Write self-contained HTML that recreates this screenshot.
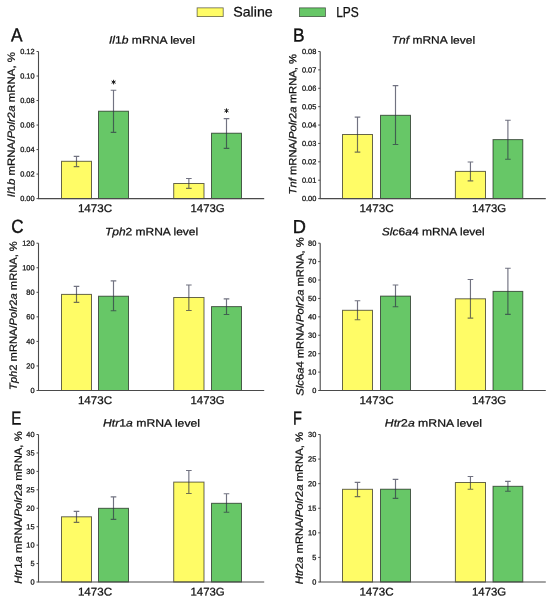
<!DOCTYPE html>
<html><head><meta charset="utf-8"><style>
html,body{margin:0;padding:0;background:#fff;width:550px;height:602px;overflow:hidden}
svg{display:block;will-change:transform}
text{font-family:"Liberation Sans",sans-serif;fill:#111;stroke:#111;stroke-width:0.25px}
</style></head><body>
<svg width="550" height="602" viewBox="0 0 550 602">
<rect width="550" height="602" fill="#fff"/>
<rect x="197.1" y="7.85" width="26.1" height="8.75" fill="#fffc66" stroke="rgba(0,0,0,0.6)" stroke-width="0.8"/>
<text transform="matrix(1,0.0005,0,1,233.2,16.5)" font-size="13.8" textLength="39.5" lengthAdjust="spacingAndGlyphs">Saline</text>
<rect x="299.5" y="7.85" width="25.9" height="8.75" fill="#67c767" stroke="rgba(0,0,0,0.6)" stroke-width="0.8"/>
<text transform="matrix(1,0.0005,0,1,336.2,16.5)" font-size="13.8" textLength="22.6" lengthAdjust="spacingAndGlyphs">LPS</text>
<text transform="matrix(0.9169,0.0005,0,1,11.07,41.3)" font-size="18.75" style="stroke-width:0.4px">A</text>
<text transform="matrix(0.9219,0.0005,0,1,292.88,41.4)" font-size="18.75" style="stroke-width:0.4px">B</text>
<text transform="matrix(0.9095,0.0005,0,1,11.13,232.8)" font-size="18.75" style="stroke-width:0.4px">C</text>
<text transform="matrix(0.9725,0.0005,0,1,292.8,232.9)" font-size="18.75" style="stroke-width:0.4px">D</text>
<text transform="matrix(0.8069,0.0005,0,1,11.26,424.5)" font-size="18.75" style="stroke-width:0.4px">E</text>
<text transform="matrix(0.7747,0.0005,0,1,293.11,424.5)" font-size="18.75" style="stroke-width:0.4px">F</text>
<rect x="61.5" y="161.3" width="30" height="37.3" fill="#fffc66" stroke="rgba(0,0,0,0.6)" stroke-width="1"/>
<rect x="98.5" y="111.2" width="30" height="87.4" fill="#67c767" stroke="rgba(0,0,0,0.6)" stroke-width="1"/>
<rect x="173.7" y="183.5" width="30.3" height="15.1" fill="#fffc66" stroke="rgba(0,0,0,0.6)" stroke-width="1"/>
<rect x="211.5" y="133.2" width="30" height="65.4" fill="#67c767" stroke="rgba(0,0,0,0.6)" stroke-width="1"/>
<path d="M76.5 156.3V166.6M73.7 156.3H79.3M73.7 166.6H79.3" stroke="rgba(45,47,70,0.68)" stroke-width="1.15" fill="none"/>
<path d="M113.5 90.2V132.4M110.7 90.2H116.3M110.7 132.4H116.3" stroke="rgba(45,47,70,0.68)" stroke-width="1.15" fill="none"/>
<path d="M188.85 178.5V188.3M186.05 178.5H191.65M186.05 188.3H191.65" stroke="rgba(45,47,70,0.68)" stroke-width="1.15" fill="none"/>
<path d="M226.5 118.6V148.3M223.7 118.6H229.3M223.7 148.3H229.3" stroke="rgba(45,47,70,0.68)" stroke-width="1.15" fill="none"/>
<path d="M113.6 84.4L113.6 79.8M111.61 83.25L115.59 80.95M115.59 83.25L111.61 80.95" stroke="#1a1a1a" stroke-width="1.0" fill="none"/>
<path d="M226.5 113L226.5 108.4M224.51 111.85L228.49 109.55M228.49 111.85L224.51 109.55" stroke="#1a1a1a" stroke-width="1.0" fill="none"/>
<path d="M38.5 51.5V198.6H264.2" stroke="#4a4a4a" stroke-width="1.1" fill="none"/>
<path d="M36.5 198.6H38.5" stroke="#4a4a4a" stroke-width="1"/>
<text transform="matrix(1,0.0005,0,1,34.6,201.1)" font-size="7.4" text-anchor="end">0.00</text>
<path d="M36.5 174.08H38.5" stroke="#4a4a4a" stroke-width="1"/>
<text transform="matrix(1,0.0005,0,1,34.6,176.58)" font-size="7.4" text-anchor="end">0.02</text>
<path d="M36.5 149.57H38.5" stroke="#4a4a4a" stroke-width="1"/>
<text transform="matrix(1,0.0005,0,1,34.6,152.07)" font-size="7.4" text-anchor="end">0.04</text>
<path d="M36.5 125.05H38.5" stroke="#4a4a4a" stroke-width="1"/>
<text transform="matrix(1,0.0005,0,1,34.6,127.55)" font-size="7.4" text-anchor="end">0.06</text>
<path d="M36.5 100.53H38.5" stroke="#4a4a4a" stroke-width="1"/>
<text transform="matrix(1,0.0005,0,1,34.6,103.03)" font-size="7.4" text-anchor="end">0.08</text>
<path d="M36.5 76.02H38.5" stroke="#4a4a4a" stroke-width="1"/>
<text transform="matrix(1,0.0005,0,1,34.6,78.52)" font-size="7.4" text-anchor="end">0.10</text>
<path d="M36.5 51.5H38.5" stroke="#4a4a4a" stroke-width="1"/>
<text transform="matrix(1,0.0005,0,1,34.6,54)" font-size="7.4" text-anchor="end">0.12</text>
<text transform="matrix(1,0.0005,0,1,95,212)" font-size="11.2" text-anchor="middle" textLength="34.2" lengthAdjust="spacingAndGlyphs">1473C</text>
<text transform="matrix(1,0.0005,0,1,207.6,212)" font-size="11.2" text-anchor="middle" textLength="34.2" lengthAdjust="spacingAndGlyphs">1473G</text>
<text transform="matrix(1,0.0005,0,1,109,43.6)" font-size="10.6" textLength="86" lengthAdjust="spacingAndGlyphs"><tspan font-style="italic">Il</tspan><tspan>1</tspan><tspan font-style="italic">b</tspan><tspan> mRNA level</tspan></text>
<text transform="matrix(0.0005,-1,1,0,14.7,197.2)" font-size="10.4" textLength="145.2" lengthAdjust="spacingAndGlyphs"><tspan font-style="italic">Il</tspan><tspan>1</tspan><tspan font-style="italic">b</tspan><tspan> mRNA/</tspan><tspan font-style="italic">Polr</tspan><tspan>2</tspan><tspan font-style="italic">a</tspan><tspan> mRNA, %</tspan></text>
<rect x="342.5" y="134.5" width="30" height="64.1" fill="#fffc66" stroke="rgba(0,0,0,0.6)" stroke-width="1"/>
<rect x="380.5" y="115.3" width="30" height="83.3" fill="#67c767" stroke="rgba(0,0,0,0.6)" stroke-width="1"/>
<rect x="455.4" y="171.4" width="30.1" height="27.2" fill="#fffc66" stroke="rgba(0,0,0,0.6)" stroke-width="1"/>
<rect x="493" y="139.6" width="29.8" height="59" fill="#67c767" stroke="rgba(0,0,0,0.6)" stroke-width="1"/>
<path d="M357.5 117.1V152.1M354.7 117.1H360.3M354.7 152.1H360.3" stroke="rgba(45,47,70,0.68)" stroke-width="1.15" fill="none"/>
<path d="M395.5 85.6V144.5M392.7 85.6H398.3M392.7 144.5H398.3" stroke="rgba(45,47,70,0.68)" stroke-width="1.15" fill="none"/>
<path d="M470.45 162V180.8M467.65 162H473.25M467.65 180.8H473.25" stroke="rgba(45,47,70,0.68)" stroke-width="1.15" fill="none"/>
<path d="M507.9 120.2V159.2M505.1 120.2H510.7M505.1 159.2H510.7" stroke="rgba(45,47,70,0.68)" stroke-width="1.15" fill="none"/>
<path d="M320.2 51.5V198.6H545.8" stroke="#4a4a4a" stroke-width="1.1" fill="none"/>
<path d="M318.2 198.6H320.2" stroke="#4a4a4a" stroke-width="1"/>
<text transform="matrix(1,0.0005,0,1,316.3,201.1)" font-size="7.4" text-anchor="end">0.00</text>
<path d="M318.2 180.21H320.2" stroke="#4a4a4a" stroke-width="1"/>
<text transform="matrix(1,0.0005,0,1,316.3,182.71)" font-size="7.4" text-anchor="end">0.01</text>
<path d="M318.2 161.82H320.2" stroke="#4a4a4a" stroke-width="1"/>
<text transform="matrix(1,0.0005,0,1,316.3,164.32)" font-size="7.4" text-anchor="end">0.02</text>
<path d="M318.2 143.44H320.2" stroke="#4a4a4a" stroke-width="1"/>
<text transform="matrix(1,0.0005,0,1,316.3,145.94)" font-size="7.4" text-anchor="end">0.03</text>
<path d="M318.2 125.05H320.2" stroke="#4a4a4a" stroke-width="1"/>
<text transform="matrix(1,0.0005,0,1,316.3,127.55)" font-size="7.4" text-anchor="end">0.04</text>
<path d="M318.2 106.66H320.2" stroke="#4a4a4a" stroke-width="1"/>
<text transform="matrix(1,0.0005,0,1,316.3,109.16)" font-size="7.4" text-anchor="end">0.05</text>
<path d="M318.2 88.28H320.2" stroke="#4a4a4a" stroke-width="1"/>
<text transform="matrix(1,0.0005,0,1,316.3,90.78)" font-size="7.4" text-anchor="end">0.06</text>
<path d="M318.2 69.89H320.2" stroke="#4a4a4a" stroke-width="1"/>
<text transform="matrix(1,0.0005,0,1,316.3,72.39)" font-size="7.4" text-anchor="end">0.07</text>
<path d="M318.2 51.5H320.2" stroke="#4a4a4a" stroke-width="1"/>
<text transform="matrix(1,0.0005,0,1,316.3,54)" font-size="7.4" text-anchor="end">0.08</text>
<text transform="matrix(1,0.0005,0,1,376.5,212)" font-size="11.2" text-anchor="middle" textLength="34.2" lengthAdjust="spacingAndGlyphs">1473C</text>
<text transform="matrix(1,0.0005,0,1,489.1,212)" font-size="11.2" text-anchor="middle" textLength="34.2" lengthAdjust="spacingAndGlyphs">1473G</text>
<text transform="matrix(1,0.0005,0,1,391.8,43.6)" font-size="10.6" textLength="83.3" lengthAdjust="spacingAndGlyphs"><tspan font-style="italic">Tnf</tspan><tspan> mRNA level</tspan></text>
<text transform="matrix(0.0005,-1,1,0,296.3,194.4)" font-size="10.4" textLength="140.4" lengthAdjust="spacingAndGlyphs"><tspan font-style="italic">Tnf</tspan><tspan> mRNA/</tspan><tspan font-style="italic">Polr</tspan><tspan>2</tspan><tspan font-style="italic">a</tspan><tspan> mRNA, %</tspan></text>
<rect x="61.5" y="294.4" width="30" height="96.1" fill="#fffc66" stroke="rgba(0,0,0,0.6)" stroke-width="1"/>
<rect x="98.5" y="296.2" width="30" height="94.3" fill="#67c767" stroke="rgba(0,0,0,0.6)" stroke-width="1"/>
<rect x="173.7" y="297.5" width="30.3" height="93" fill="#fffc66" stroke="rgba(0,0,0,0.6)" stroke-width="1"/>
<rect x="211.5" y="306.6" width="30" height="83.9" fill="#67c767" stroke="rgba(0,0,0,0.6)" stroke-width="1"/>
<path d="M76.5 286.4V302.3M73.7 286.4H79.3M73.7 302.3H79.3" stroke="rgba(45,47,70,0.68)" stroke-width="1.15" fill="none"/>
<path d="M113.5 280.8V310.7M110.7 280.8H116.3M110.7 310.7H116.3" stroke="rgba(45,47,70,0.68)" stroke-width="1.15" fill="none"/>
<path d="M188.85 285V310.5M186.05 285H191.65M186.05 310.5H191.65" stroke="rgba(45,47,70,0.68)" stroke-width="1.15" fill="none"/>
<path d="M226.5 298.9V314.5M223.7 298.9H229.3M223.7 314.5H229.3" stroke="rgba(45,47,70,0.68)" stroke-width="1.15" fill="none"/>
<path d="M38.5 243.2V390.5H264.2" stroke="#4a4a4a" stroke-width="1.1" fill="none"/>
<path d="M36.5 390.5H38.5" stroke="#4a4a4a" stroke-width="1"/>
<text transform="matrix(1,0.0005,0,1,34.6,393)" font-size="7.4" text-anchor="end">0</text>
<path d="M36.5 365.95H38.5" stroke="#4a4a4a" stroke-width="1"/>
<text transform="matrix(1,0.0005,0,1,34.6,368.45)" font-size="7.4" text-anchor="end">20</text>
<path d="M36.5 341.4H38.5" stroke="#4a4a4a" stroke-width="1"/>
<text transform="matrix(1,0.0005,0,1,34.6,343.9)" font-size="7.4" text-anchor="end">40</text>
<path d="M36.5 316.85H38.5" stroke="#4a4a4a" stroke-width="1"/>
<text transform="matrix(1,0.0005,0,1,34.6,319.35)" font-size="7.4" text-anchor="end">60</text>
<path d="M36.5 292.3H38.5" stroke="#4a4a4a" stroke-width="1"/>
<text transform="matrix(1,0.0005,0,1,34.6,294.8)" font-size="7.4" text-anchor="end">80</text>
<path d="M36.5 267.75H38.5" stroke="#4a4a4a" stroke-width="1"/>
<text transform="matrix(1,0.0005,0,1,34.6,270.25)" font-size="7.4" text-anchor="end">100</text>
<path d="M36.5 243.2H38.5" stroke="#4a4a4a" stroke-width="1"/>
<text transform="matrix(1,0.0005,0,1,34.6,245.7)" font-size="7.4" text-anchor="end">120</text>
<text transform="matrix(1,0.0005,0,1,95,403.9)" font-size="11.2" text-anchor="middle" textLength="34.2" lengthAdjust="spacingAndGlyphs">1473C</text>
<text transform="matrix(1,0.0005,0,1,207.6,403.9)" font-size="11.2" text-anchor="middle" textLength="34.2" lengthAdjust="spacingAndGlyphs">1473G</text>
<text transform="matrix(1,0.0005,0,1,104.9,235.3)" font-size="10.6" textLength="93.3" lengthAdjust="spacingAndGlyphs"><tspan font-style="italic">Tph</tspan><tspan>2</tspan><tspan> mRNA level</tspan></text>
<text transform="matrix(0.0005,-1,1,0,16.7,389.9)" font-size="10.4" textLength="148.7" lengthAdjust="spacingAndGlyphs"><tspan font-style="italic">Tph</tspan><tspan>2</tspan><tspan> mRNA/</tspan><tspan font-style="italic">Polr</tspan><tspan>2</tspan><tspan font-style="italic">a</tspan><tspan> mRNA, %</tspan></text>
<rect x="342.5" y="310.3" width="30" height="80.2" fill="#fffc66" stroke="rgba(0,0,0,0.6)" stroke-width="1"/>
<rect x="380.5" y="296.1" width="30" height="94.4" fill="#67c767" stroke="rgba(0,0,0,0.6)" stroke-width="1"/>
<rect x="455.4" y="298.8" width="30.1" height="91.7" fill="#fffc66" stroke="rgba(0,0,0,0.6)" stroke-width="1"/>
<rect x="493" y="291.4" width="29.8" height="99.1" fill="#67c767" stroke="rgba(0,0,0,0.6)" stroke-width="1"/>
<path d="M357.5 300.7V319.7M354.7 300.7H360.3M354.7 319.7H360.3" stroke="rgba(45,47,70,0.68)" stroke-width="1.15" fill="none"/>
<path d="M395.5 285V306.7M392.7 285H398.3M392.7 306.7H398.3" stroke="rgba(45,47,70,0.68)" stroke-width="1.15" fill="none"/>
<path d="M470.45 279.5V318.1M467.65 279.5H473.25M467.65 318.1H473.25" stroke="rgba(45,47,70,0.68)" stroke-width="1.15" fill="none"/>
<path d="M507.9 268.2V314.3M505.1 268.2H510.7M505.1 314.3H510.7" stroke="rgba(45,47,70,0.68)" stroke-width="1.15" fill="none"/>
<path d="M320.2 243.2V390.5H545.8" stroke="#4a4a4a" stroke-width="1.1" fill="none"/>
<path d="M318.2 390.5H320.2" stroke="#4a4a4a" stroke-width="1"/>
<text transform="matrix(1,0.0005,0,1,316.3,393)" font-size="7.4" text-anchor="end">0</text>
<path d="M318.2 372.09H320.2" stroke="#4a4a4a" stroke-width="1"/>
<text transform="matrix(1,0.0005,0,1,316.3,374.59)" font-size="7.4" text-anchor="end">10</text>
<path d="M318.2 353.68H320.2" stroke="#4a4a4a" stroke-width="1"/>
<text transform="matrix(1,0.0005,0,1,316.3,356.18)" font-size="7.4" text-anchor="end">20</text>
<path d="M318.2 335.26H320.2" stroke="#4a4a4a" stroke-width="1"/>
<text transform="matrix(1,0.0005,0,1,316.3,337.76)" font-size="7.4" text-anchor="end">30</text>
<path d="M318.2 316.85H320.2" stroke="#4a4a4a" stroke-width="1"/>
<text transform="matrix(1,0.0005,0,1,316.3,319.35)" font-size="7.4" text-anchor="end">40</text>
<path d="M318.2 298.44H320.2" stroke="#4a4a4a" stroke-width="1"/>
<text transform="matrix(1,0.0005,0,1,316.3,300.94)" font-size="7.4" text-anchor="end">50</text>
<path d="M318.2 280.02H320.2" stroke="#4a4a4a" stroke-width="1"/>
<text transform="matrix(1,0.0005,0,1,316.3,282.52)" font-size="7.4" text-anchor="end">60</text>
<path d="M318.2 261.61H320.2" stroke="#4a4a4a" stroke-width="1"/>
<text transform="matrix(1,0.0005,0,1,316.3,264.11)" font-size="7.4" text-anchor="end">70</text>
<path d="M318.2 243.2H320.2" stroke="#4a4a4a" stroke-width="1"/>
<text transform="matrix(1,0.0005,0,1,316.3,245.7)" font-size="7.4" text-anchor="end">80</text>
<text transform="matrix(1,0.0005,0,1,376.5,403.9)" font-size="11.2" text-anchor="middle" textLength="34.2" lengthAdjust="spacingAndGlyphs">1473C</text>
<text transform="matrix(1,0.0005,0,1,489.1,403.9)" font-size="11.2" text-anchor="middle" textLength="34.2" lengthAdjust="spacingAndGlyphs">1473G</text>
<text transform="matrix(1,0.0005,0,1,381.8,235.3)" font-size="10.6" textLength="102.9" lengthAdjust="spacingAndGlyphs"><tspan font-style="italic">Slc</tspan><tspan>6</tspan><tspan font-style="italic">a</tspan><tspan>4</tspan><tspan> mRNA level</tspan></text>
<text transform="matrix(0.0005,-1,1,0,303.4,395.7)" font-size="10.4" textLength="158.5" lengthAdjust="spacingAndGlyphs"><tspan font-style="italic">Slc</tspan><tspan>6</tspan><tspan font-style="italic">a</tspan><tspan>4</tspan><tspan> mRNA/</tspan><tspan font-style="italic">Polr</tspan><tspan>2</tspan><tspan font-style="italic">a</tspan><tspan> mRNA, %</tspan></text>
<rect x="61.5" y="516.8" width="30" height="65.2" fill="#fffc66" stroke="rgba(0,0,0,0.6)" stroke-width="1"/>
<rect x="98.5" y="508.3" width="30" height="73.7" fill="#67c767" stroke="rgba(0,0,0,0.6)" stroke-width="1"/>
<rect x="173.7" y="482.1" width="30.3" height="99.9" fill="#fffc66" stroke="rgba(0,0,0,0.6)" stroke-width="1"/>
<rect x="211.5" y="503.3" width="30" height="78.7" fill="#67c767" stroke="rgba(0,0,0,0.6)" stroke-width="1"/>
<path d="M76.5 511.4V522.4M73.7 511.4H79.3M73.7 522.4H79.3" stroke="rgba(45,47,70,0.68)" stroke-width="1.15" fill="none"/>
<path d="M113.5 496.8V519.4M110.7 496.8H116.3M110.7 519.4H116.3" stroke="rgba(45,47,70,0.68)" stroke-width="1.15" fill="none"/>
<path d="M188.85 470.5V493.5M186.05 470.5H191.65M186.05 493.5H191.65" stroke="rgba(45,47,70,0.68)" stroke-width="1.15" fill="none"/>
<path d="M226.5 493.7V512.2M223.7 493.7H229.3M223.7 512.2H229.3" stroke="rgba(45,47,70,0.68)" stroke-width="1.15" fill="none"/>
<path d="M38.5 434.5V582H264.2" stroke="#4a4a4a" stroke-width="1.1" fill="none"/>
<path d="M36.5 582H38.5" stroke="#4a4a4a" stroke-width="1"/>
<text transform="matrix(1,0.0005,0,1,34.6,584.5)" font-size="7.4" text-anchor="end">0</text>
<path d="M36.5 563.56H38.5" stroke="#4a4a4a" stroke-width="1"/>
<text transform="matrix(1,0.0005,0,1,34.6,566.06)" font-size="7.4" text-anchor="end">5</text>
<path d="M36.5 545.12H38.5" stroke="#4a4a4a" stroke-width="1"/>
<text transform="matrix(1,0.0005,0,1,34.6,547.62)" font-size="7.4" text-anchor="end">10</text>
<path d="M36.5 526.69H38.5" stroke="#4a4a4a" stroke-width="1"/>
<text transform="matrix(1,0.0005,0,1,34.6,529.19)" font-size="7.4" text-anchor="end">15</text>
<path d="M36.5 508.25H38.5" stroke="#4a4a4a" stroke-width="1"/>
<text transform="matrix(1,0.0005,0,1,34.6,510.75)" font-size="7.4" text-anchor="end">20</text>
<path d="M36.5 489.81H38.5" stroke="#4a4a4a" stroke-width="1"/>
<text transform="matrix(1,0.0005,0,1,34.6,492.31)" font-size="7.4" text-anchor="end">25</text>
<path d="M36.5 471.38H38.5" stroke="#4a4a4a" stroke-width="1"/>
<text transform="matrix(1,0.0005,0,1,34.6,473.88)" font-size="7.4" text-anchor="end">30</text>
<path d="M36.5 452.94H38.5" stroke="#4a4a4a" stroke-width="1"/>
<text transform="matrix(1,0.0005,0,1,34.6,455.44)" font-size="7.4" text-anchor="end">35</text>
<path d="M36.5 434.5H38.5" stroke="#4a4a4a" stroke-width="1"/>
<text transform="matrix(1,0.0005,0,1,34.6,437)" font-size="7.4" text-anchor="end">40</text>
<text transform="matrix(1,0.0005,0,1,95,595.4)" font-size="11.2" text-anchor="middle" textLength="34.2" lengthAdjust="spacingAndGlyphs">1473C</text>
<text transform="matrix(1,0.0005,0,1,207.6,595.4)" font-size="11.2" text-anchor="middle" textLength="34.2" lengthAdjust="spacingAndGlyphs">1473G</text>
<text transform="matrix(1,0.0005,0,1,103,426.6)" font-size="10.6" textLength="97" lengthAdjust="spacingAndGlyphs"><tspan font-style="italic">Htr</tspan><tspan>1</tspan><tspan font-style="italic">a</tspan><tspan> mRNA level</tspan></text>
<text transform="matrix(0.0005,-1,1,0,21.7,583.7)" font-size="10.4" textLength="152.4" lengthAdjust="spacingAndGlyphs"><tspan font-style="italic">Htr</tspan><tspan>1</tspan><tspan font-style="italic">a</tspan><tspan> mRNA/</tspan><tspan font-style="italic">Polr</tspan><tspan>2</tspan><tspan font-style="italic">a</tspan><tspan> mRNA, %</tspan></text>
<rect x="342.5" y="489.3" width="30" height="92.7" fill="#fffc66" stroke="rgba(0,0,0,0.6)" stroke-width="1"/>
<rect x="380.5" y="489.2" width="30" height="92.8" fill="#67c767" stroke="rgba(0,0,0,0.6)" stroke-width="1"/>
<rect x="455.4" y="482.5" width="30.1" height="99.5" fill="#fffc66" stroke="rgba(0,0,0,0.6)" stroke-width="1"/>
<rect x="493" y="486.3" width="29.8" height="95.7" fill="#67c767" stroke="rgba(0,0,0,0.6)" stroke-width="1"/>
<path d="M357.5 482.4V496.6M354.7 482.4H360.3M354.7 496.6H360.3" stroke="rgba(45,47,70,0.68)" stroke-width="1.15" fill="none"/>
<path d="M395.5 479.4V498.4M392.7 479.4H398.3M392.7 498.4H398.3" stroke="rgba(45,47,70,0.68)" stroke-width="1.15" fill="none"/>
<path d="M470.45 476.5V489.2M467.65 476.5H473.25M467.65 489.2H473.25" stroke="rgba(45,47,70,0.68)" stroke-width="1.15" fill="none"/>
<path d="M507.9 481.4V491.2M505.1 481.4H510.7M505.1 491.2H510.7" stroke="rgba(45,47,70,0.68)" stroke-width="1.15" fill="none"/>
<path d="M320.2 434.5V582H545.8" stroke="#4a4a4a" stroke-width="1.1" fill="none"/>
<path d="M318.2 582H320.2" stroke="#4a4a4a" stroke-width="1"/>
<text transform="matrix(1,0.0005,0,1,316.3,584.5)" font-size="7.4" text-anchor="end">0</text>
<path d="M318.2 557.42H320.2" stroke="#4a4a4a" stroke-width="1"/>
<text transform="matrix(1,0.0005,0,1,316.3,559.92)" font-size="7.4" text-anchor="end">5</text>
<path d="M318.2 532.83H320.2" stroke="#4a4a4a" stroke-width="1"/>
<text transform="matrix(1,0.0005,0,1,316.3,535.33)" font-size="7.4" text-anchor="end">10</text>
<path d="M318.2 508.25H320.2" stroke="#4a4a4a" stroke-width="1"/>
<text transform="matrix(1,0.0005,0,1,316.3,510.75)" font-size="7.4" text-anchor="end">15</text>
<path d="M318.2 483.67H320.2" stroke="#4a4a4a" stroke-width="1"/>
<text transform="matrix(1,0.0005,0,1,316.3,486.17)" font-size="7.4" text-anchor="end">20</text>
<path d="M318.2 459.08H320.2" stroke="#4a4a4a" stroke-width="1"/>
<text transform="matrix(1,0.0005,0,1,316.3,461.58)" font-size="7.4" text-anchor="end">25</text>
<path d="M318.2 434.5H320.2" stroke="#4a4a4a" stroke-width="1"/>
<text transform="matrix(1,0.0005,0,1,316.3,437)" font-size="7.4" text-anchor="end">30</text>
<text transform="matrix(1,0.0005,0,1,376.5,595.4)" font-size="11.2" text-anchor="middle" textLength="34.2" lengthAdjust="spacingAndGlyphs">1473C</text>
<text transform="matrix(1,0.0005,0,1,489.1,595.4)" font-size="11.2" text-anchor="middle" textLength="34.2" lengthAdjust="spacingAndGlyphs">1473G</text>
<text transform="matrix(1,0.0005,0,1,384.8,426.6)" font-size="10.6" textLength="97.2" lengthAdjust="spacingAndGlyphs"><tspan font-style="italic">Htr</tspan><tspan>2</tspan><tspan font-style="italic">a</tspan><tspan> mRNA level</tspan></text>
<text transform="matrix(0.0005,-1,1,0,302.8,584.2)" font-size="10.4" textLength="152.2" lengthAdjust="spacingAndGlyphs"><tspan font-style="italic">Htr</tspan><tspan>2</tspan><tspan font-style="italic">a</tspan><tspan> mRNA/</tspan><tspan font-style="italic">Polr</tspan><tspan>2</tspan><tspan font-style="italic">a</tspan><tspan> mRNA, %</tspan></text>
</svg>
</body></html>
